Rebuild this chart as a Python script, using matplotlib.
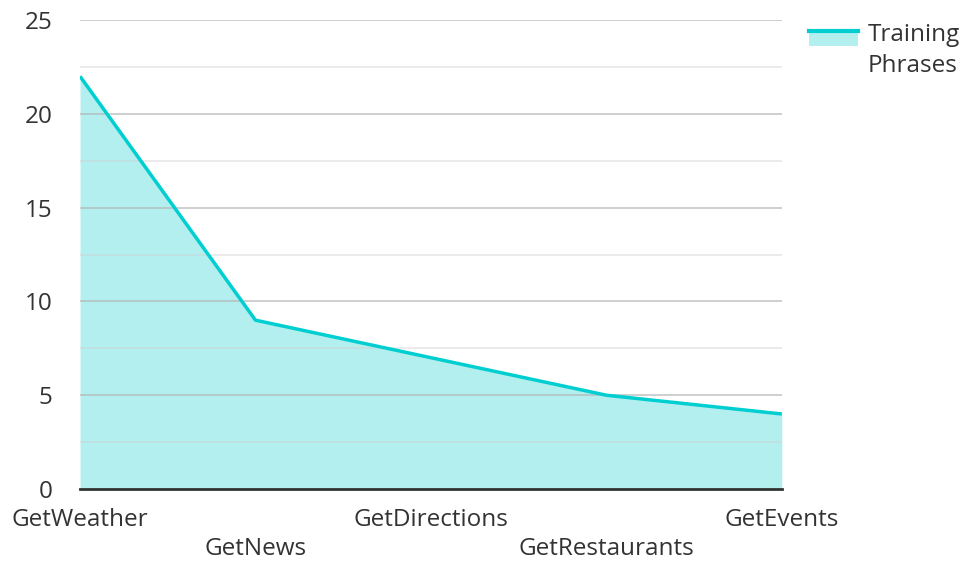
import matplotlib.pyplot as plt
from matplotlib.legend_handler import HandlerBase
from matplotlib.patches import Rectangle
from matplotlib.lines import Line2D
from matplotlib.transforms import ScaledTranslation

plt.rcParams['font.family'] = ['Open Sans', 'DejaVu Sans']

intents = ['GetWeather', 'GetNews', 'GetDirections', 'GetRestaurants', 'GetEvents']
phrases = [22, 9, 7, 5, 4]

line_color = '#00CED1'
fill_color = '#B2EFEE'


class AreaHandler(HandlerBase):
    # line on top of a filled swatch, lifted to the first text line
    def create_artists(self, legend, orig_handle, xdescent, ydescent,
                       width, height, fontsize, trans):
        y0 = -ydescent + 8.6
        rect = Rectangle((-xdescent, y0), width, height,
                         facecolor=fill_color, edgecolor='none', transform=trans)
        ln = Line2D([-xdescent, -xdescent + width],
                    [y0 + height, y0 + height],
                    color=line_color, lw=3, transform=trans)
        return [rect, ln]


fig = plt.figure(figsize=(9.64, 5.61), dpi=100)
ax = fig.add_axes([0.083, 0.1283, 0.728, 0.836])

x = list(range(len(intents)))
ax.fill_between(x, phrases, color=fill_color, lw=0, zorder=1)
ax.plot(x, phrases, color=line_color, lw=2.5, zorder=3, solid_capstyle='butt')

ax.set_xlim(0, len(intents) - 1)
ax.set_ylim(0, 25)
major = [0, 5, 10, 15, 20, 25]
minor = [2.5, 7.5, 12.5, 17.5, 22.5]
ax.set_yticks(major)
# gridlines drawn over the fill, like the reference
for v in major[1:]:
    ax.axhline(v, color='#b5b5b5', lw=1.2, alpha=0.75, zorder=2)
for v in minor:
    ax.axhline(v, color='#d0d0d0', lw=1.2, alpha=0.5, zorder=2)

fs = 17.5
ax.set_xticks(x)
ax.set_xticklabels(intents, fontsize=fs, color='#333333')
ax.tick_params(axis='x', length=0, pad=14)
ax.tick_params(axis='y', which='both', length=0, pad=20, labelsize=fs,
               labelcolor='#333333')
# stagger every other category label onto a second row
shift = ScaledTranslation(0, -0.29, fig.dpi_scale_trans)
for i, lab in enumerate(ax.get_xticklabels()):
    if i % 2 == 1:
        lab.set_transform(lab.get_transform() + shift)

for s in ['top', 'right', 'left']:
    ax.spines[s].set_visible(False)
ax.spines['bottom'].set_color('#333333')
ax.spines['bottom'].set_linewidth(2)
ax.spines['bottom'].set_zorder(4)

handle = Rectangle((0, 0), 1, 1)
leg = fig.legend([handle], ['Training\nPhrases'], handler_map={Rectangle: AreaHandler()},
                 loc='upper left', bbox_to_anchor=(0.822, 0.99), frameon=False,
                 fontsize=fs, handlelength=2.0, handleheight=0.55, handletextpad=0.4,
                 labelcolor='#333333', borderaxespad=0.3)
for t in leg.get_texts():
    t.set_linespacing(1.4)

fig.savefig('out.png', dpi=100)
